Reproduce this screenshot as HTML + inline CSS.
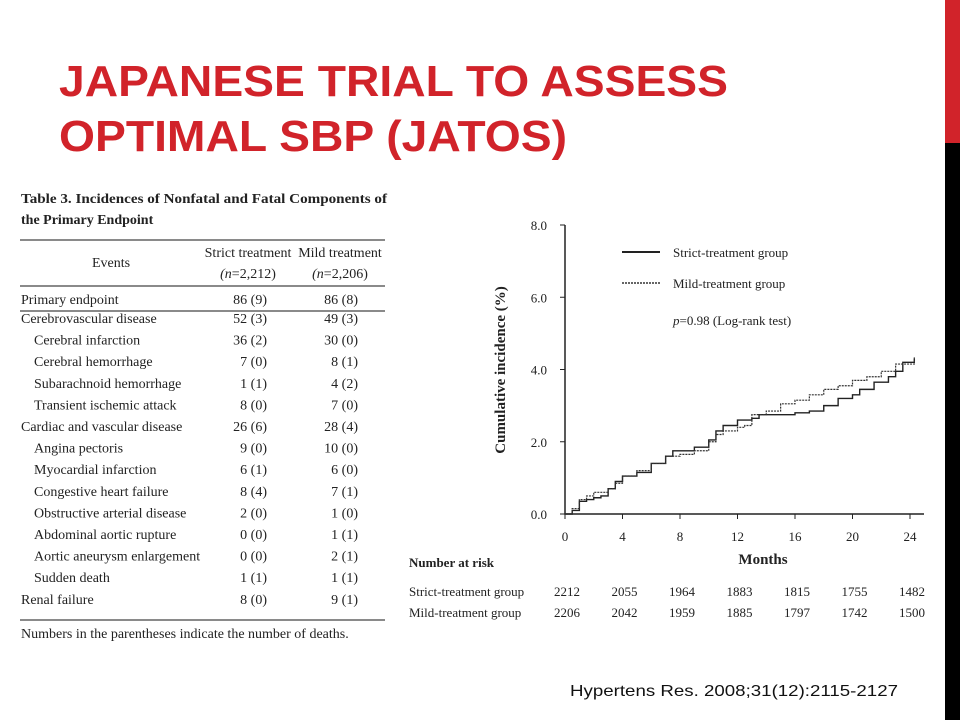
<!DOCTYPE html>
<html><head><meta charset="utf-8"><style>
html,body{margin:0;padding:0;background:#fff;}
svg{display:block;}
.ser{font-family:"Liberation Serif",serif;fill:#222;}
</style></head><body>
<svg id="root" width="960" height="720" viewBox="0 0 960 720" xmlns="http://www.w3.org/2000/svg">
<rect x="945" y="0" width="15" height="143" fill="#d1232a"/>
<rect x="945" y="143" width="15" height="577" fill="#000"/>
<g font-family="Liberation Sans, sans-serif" font-weight="bold" font-size="44" fill="#d1232a">
<text x="59" y="96" textLength="669" lengthAdjust="spacingAndGlyphs">JAPANESE TRIAL TO ASSESS</text>
<text x="59" y="151" textLength="508" lengthAdjust="spacingAndGlyphs">OPTIMAL SBP (JATOS)</text>
</g>
<g id="table" class="ser" font-size="14">
<text x="21" y="203" font-weight="bold" textLength="366" lengthAdjust="spacingAndGlyphs">Table 3. Incidences of Nonfatal and Fatal Components of</text>
<text x="21" y="224" font-weight="bold">the Primary Endpoint</text>
<line x1="20" y1="240" x2="385" y2="240" stroke="#444" stroke-width="1.2"/>
<text x="111" y="267" text-anchor="middle">Events</text>
<text x="248" y="257" text-anchor="middle">Strict treatment</text>
<text x="248" y="278" text-anchor="middle"><tspan font-style="italic">(n</tspan>=2,212)</text>
<text x="340" y="257" text-anchor="middle">Mild treatment</text>
<text x="340" y="278" text-anchor="middle"><tspan font-style="italic">(n</tspan>=2,206)</text>
<line x1="20" y1="286" x2="385" y2="286" stroke="#444" stroke-width="1.2"/>
<line x1="20" y1="311" x2="385" y2="311" stroke="#444" stroke-width="1.2"/>
<line x1="20" y1="620" x2="385" y2="620" stroke="#444" stroke-width="1.2"/>
<text x="21" y="638">Numbers in the parentheses indicate the number of deaths.</text>
</g>
<g id="chart"></g>
<text x="570" y="696" font-family="Liberation Sans, sans-serif" font-size="16" fill="#111" textLength="328" lengthAdjust="spacingAndGlyphs">Hypertens Res. 2008;31(12):2115-2127</text>
</svg>
<script>
const NS="http://www.w3.org/2000/svg";
const rowLabels=["Primary endpoint","Cerebrovascular disease","Cerebral infarction","Cerebral hemorrhage","Subarachnoid hemorrhage","Transient ischemic attack","Cardiac and vascular disease","Angina pectoris","Myocardial infarction","Congestive heart failure","Obstructive arterial disease","Abdominal aortic rupture","Aortic aneurysm enlargement","Sudden death","Renal failure"];
const rowIndent=[0,0,1,1,1,1,0,1,1,1,1,1,1,1,0];
const strictVals=["86 (9)","52 (3)","36 (2)","7 (0)","1 (1)","8 (0)","26 (6)","9 (0)","6 (1)","8 (4)","2 (0)","0 (0)","0 (0)","1 (1)","8 (0)"];
const mildVals=["86 (8)","49 (3)","30 (0)","8 (1)","4 (2)","7 (0)","28 (4)","10 (0)","6 (0)","7 (1)","1 (0)","1 (1)","2 (1)","1 (1)","9 (1)"];
const months=[0,4,8,12,16,20,24];
const yTicks=[0,2,4,6,8];
const riskStrict=[2212,2055,1964,1883,1815,1755,1482];
const riskMild=[2206,2042,1959,1885,1797,1742,1500];
const strictT=[0,0.5,1,1.5,2,2.5,3,3.5,4,5,6,7,7.5,9,10,10.5,11,12,13,13.5,16,17,18,19,20,20.5,21.5,22.5,23,23.5,24.3];
const strictY=[0,0.1,0.35,0.4,0.45,0.5,0.7,0.9,1.05,1.15,1.4,1.6,1.75,1.85,2.05,2.3,2.45,2.6,2.65,2.75,2.8,2.85,3.0,3.2,3.3,3.45,3.65,3.8,3.95,4.2,4.3];
const mildT=[0,0.5,1,1.5,2,3,3.5,4,5,6,7,8,9,10,10.5,11,12,12.5,13,14,15,16,17,18,19,20,21,22,23,24.3];
const mildY=[0,0.15,0.4,0.5,0.6,0.7,0.85,1.05,1.2,1.4,1.6,1.65,1.75,2.0,2.2,2.3,2.4,2.45,2.75,2.85,3.05,3.15,3.3,3.45,3.55,3.7,3.8,3.95,4.15,4.35];

function mk(tag,attrs,parent,txt){const e=document.createElementNS(NS,tag);for(const k in attrs)e.setAttribute(k,attrs[k]);if(txt!==undefined)e.textContent=txt;parent.appendChild(e);return e;}
const table=document.getElementById('table');
rowLabels.forEach((lab,i)=>{
  const y=304+(i===0?0:19+(i-1)*21.6);
  const t=mk('text',{x:rowIndent[i]?34:21,y:y},table,lab);
  
  
  const s=mk('text',{x:267,y:y,'text-anchor':'end'},table,strictVals[i]);
  
  
  const m=mk('text',{x:358,y:y,'text-anchor':'end'},table,mildVals[i]);
  
  
});
const g=document.getElementById('chart');
const X0=565,X1=910,Y0=514,Y1=225;
const xs=m=>X0+(X1-X0)*m/24;
const ys=v=>Y0-(Y0-Y1)*v/8;
const ax=mk('path',{d:`M${X0},${Y1} V${Y0} H924`,stroke:'#222','stroke-width':1.5,fill:'none'},g);


yTicks.forEach(v=>{
  mk('line',{x1:X0-5,x2:X0,y1:ys(v),y2:ys(v),stroke:'#222'},g);
  const t=mk('text',{x:X0-18,y:ys(v)+5,'text-anchor':'end',class:'ser','font-size':13},g,v.toFixed(1));
  
  
});
months.forEach((m,i)=>{
  mk('line',{x1:xs(m),x2:xs(m),y1:Y0,y2:Y0+5,stroke:'#222'},g);
  const t=mk('text',{x:xs(m),y:Y0+27,'text-anchor':'middle',class:'ser','font-size':13},g,m);
  
  
  const a=mk('text',{x:xs(m)+2,y:596,'text-anchor':'middle',class:'ser','font-size':13},g,riskStrict[i]);
  
  
  const b=mk('text',{x:xs(m)+2,y:617,'text-anchor':'middle',class:'ser','font-size':13},g,riskMild[i]);
  
  
});
const xt=mk('text',{x:763,y:564,'text-anchor':'middle',class:'ser','font-size':15,'font-weight':'bold'},g,'Months');


const yt=mk('text',{x:0,y:0,transform:'translate(505,370) rotate(-90)','text-anchor':'middle',class:'ser','font-size':15,'font-weight':'bold'},g,'Cumulative incidence (%)');


[['Number at risk',567,'bold'],['Strict-treatment group',596,'normal'],['Mild-treatment group',617,'normal']].forEach(r=>{
  const t=mk('text',{x:409,y:r[1],class:'ser','font-size':13,'font-weight':r[2]},g,r[0]);
  
  
});
function step(T,Y){let d=`M${xs(T[0])},${ys(Y[0])}`;for(let i=1;i<T.length;i++){d+=` H${xs(T[i])} V${ys(Y[i])}`;}return d;}
const ls=mk('path',{d:step(strictT,strictY),stroke:'#222','stroke-width':1.4,fill:'none'},g);


const lm=mk('path',{d:step(mildT,mildY),stroke:'#333','stroke-width':1.2,'stroke-dasharray':'2,1',fill:'none'},g);


const l1=mk('line',{x1:622,x2:660,y1:252,y2:252,stroke:'#222','stroke-width':2},g);


const t1=mk('text',{x:673,y:257,class:'ser','font-size':13},g,'Strict-treatment group');


const l2=mk('line',{x1:622,x2:660,y1:283,y2:283,stroke:'#333','stroke-width':1.5,'stroke-dasharray':'2,1'},g);


const t2=mk('text',{x:673,y:288,class:'ser','font-size':13},g,'Mild-treatment group');


const t3=mk('text',{x:673,y:325,class:'ser','font-size':13},g);
t3.innerHTML='<tspan font-style="italic">p</tspan>=0.98 (Log-rank test)';


</script>
</body></html>
